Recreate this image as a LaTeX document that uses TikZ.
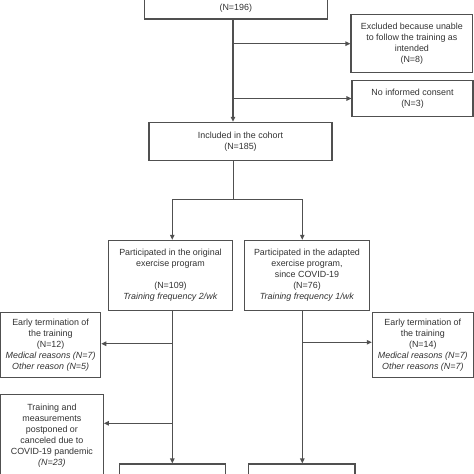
\documentclass[tikz,border=0pt]{standalone}
\usepackage{fontspec}
\setmainfont{Liberation Sans}
\usetikzlibrary{arrows.meta}
\definecolor{linegray}{HTML}{505050}
\definecolor{textgray}{HTML}{333333}
\tikzset{
  box/.style={draw=linegray, line width=1.1pt, align=center, text=textgray,
    font=\fontsize{8.9}{11}\selectfont, inner sep=0pt, rectangle},
  conn/.style={draw=linegray, line width=1.1pt},
  arr/.style={conn, -{Triangle[length=5pt,width=4.5pt]}}
}
\begin{document}
\begin{tikzpicture}[x=1pt,y=-1pt]
\useasboundingbox (0,0) rectangle (474,474);
\fill[white] (0,0) rectangle (474,474);
% boxes
\node[box, minimum width=183pt, minimum height=21.4pt] (top) at (235.8,8.3) {(N=196)};
\node[box, minimum width=121.7pt, minimum height=58pt] (excl) at (411.85,43.7)
  {Excluded because unable\\to follow the training as\\intended\\(N=8)};
\node[box, minimum width=121pt, minimum height=36.4pt] (noic) at (412.5,98.5)
  {No informed consent\\(N=3)};
\node[box, minimum width=183pt, minimum height=38pt] (cohort) at (240.5,141.3)
  {Included in the cohort\\(N=185)};
\node[box, minimum width=124.4pt, minimum height=70pt] (lprog) at (170.5,275.3)
  {Participated in the original\\exercise program\\[11pt](N=109)\\\textit{Training frequency 2/wk}};
\node[box, minimum width=124.6pt, minimum height=70pt] (rprog) at (307,275.3)
  {Participated in the adapted\\exercise program,\\since COVID-19\\(N=76)\\\textit{Training frequency 1/wk}};
\node[box, minimum width=100.2pt, minimum height=64.6pt] (learly) at (50.6,345)
  {Early termination of\\the training\\(N=12)\\\textit{Medical reasons (N=7)}\\\textit{Other reason (N=5)}};
\node[box, minimum width=101pt, minimum height=64.6pt] (rearly) at (422.8,345)
  {Early termination of\\the training\\(N=14)\\\textit{Medical reasons (N=7)}\\\textit{Other reasons (N=7)}};
\node[box, minimum width=102.8pt, minimum height=82pt] (train) at (51.9,435.7)
  {Training and\\measurements\\postponed or\\canceled due to\\COVID-19 pandemic\\\textit{(N=23)}};
\node[box, minimum width=106pt, minimum height=36pt] (botl) at (172.3,482) {};
\node[box, minimum width=106.3pt, minimum height=36pt] (botr) at (301.85,482) {};
% helper coordinates
\coordinate (m0) at (233,0);
\coordinate (split) at (233.3,199.3);
\coordinate (cL) at (172.3,0);
\coordinate (cR) at (302.3,0);
\coordinate (bl1) at (172.3,343.7);
\coordinate (bl2) at (172.3,423.3);
\coordinate (br1) at (302.3,342.3);
% connectors
\draw[arr] (top.south -| m0) -- (cohort.north -| m0);
\draw[arr] (m0 |- excl.west) -- (excl.west);
\draw[arr] (m0 |- noic.west) -- (noic.west);
\draw[conn] (cohort.south -| split) -- (split);
\draw[arr] (split) -| (cL |- lprog.north);
\draw[arr] (split) -| (cR |- rprog.north);
\draw[arr] (cL |- lprog.south) -- (cL |- botl.north);
\draw[arr] (cR |- rprog.south) -- (cR |- botr.north);
\draw[arr] (bl1) -- (learly.east |- bl1);
\draw[arr] (bl2) -- (train.east |- bl2);
\draw[arr] (br1) -- (rearly.west |- br1);
\end{tikzpicture}
\end{document}
